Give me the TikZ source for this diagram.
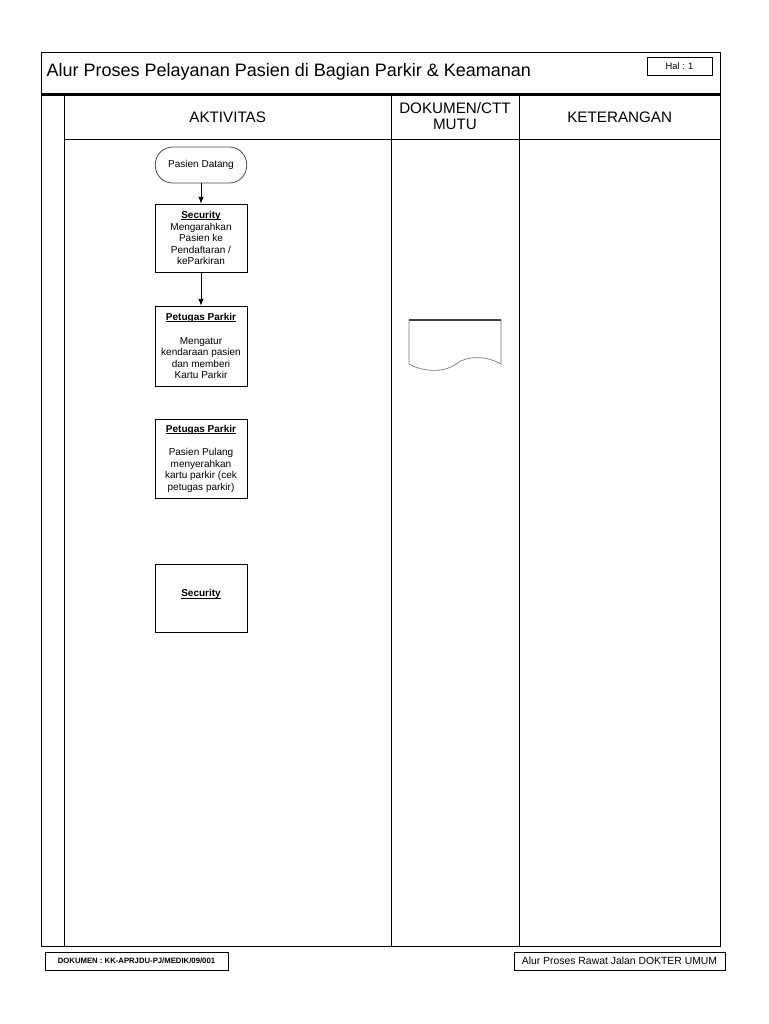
\documentclass[tikz,border=0pt]{standalone}
\usepackage{fontspec}
\setmainfont{Liberation Sans}
\usetikzlibrary{arrows.meta}
\newlength{\ulwd}
\newcommand{\uln}[1]{\settowidth{\ulwd}{#1}\rlap{\rule[-1.1pt]{\ulwd}{0.5pt}}#1}

\begin{document}
\begin{tikzpicture}[x={(0.75pt, 0pt)}, y={(0pt, -0.75pt)},
    box/.style={draw, line width=0.6pt, minimum width=69pt, align=center,
      inner sep=0pt, font=\fontsize{7.5}{8.6}\selectfont},
    terminal/.style={draw=black!70, line width=0.6pt, rounded corners=13pt,
      minimum width=68.5pt, minimum height=27pt, font=\fontsize{7.5}{8.6}\selectfont},
    head/.style={align=center, font=\fontsize{11.4}{12}\selectfont},
    tag/.style={draw, line width=0.6pt, minimum height=13.5pt, inner sep=0pt},
    flow/.style={-{Latex[length=5pt, width=4pt]}, line width=0.6pt}]
  \useasboundingbox (0, 0) rectangle (768, 1024);

  \draw[line width=0.7pt] (41.5, 52) rectangle (720.5, 946);
  \draw[line width=1.6pt] (41.5, 94.5) to (720.5, 94.5);
  \draw[line width=0.7pt] (64.5, 139.5) to (720.5, 139.5);
  \foreach \x in {64.5, 391, 519} {
    \draw[line width=0.7pt] (\x, 94.5) to (\x, 946);
  }

  \node[anchor=west, font=\fontsize{13.5}{15}\selectfont] (title) at (42, 72)
    {Alur Proses Pelayanan Pasien di Bagian Parkir \& Keamanan};
  \node[tag, minimum width=48.75pt, font=\fontsize{7}{8}\selectfont] (hal) at (679.5, 66.5) {Hal : 1};

  \node[head] (aktivitas) at (227.7, 117) {AKTIVITAS};
  \node[head] (dokumen) at (455, 116) {DOKUMEN/CTT\\MUTU};
  \node[head] (keterangan) at (619.7, 117) {KETERANGAN};

  \node[terminal] (datang) at (201, 165) {Pasien Datang};
  \node[box, minimum height=51pt] (security) at (201, 238)
    {\uln{\textbf{Security}}\\Mengarahkan\\Pasien ke\\Pendaftaran /\\keParkiran};
  \node[box, minimum height=60pt] (parkir) at (201, 346)
    {\uln{\textbf{Petugas Parkir}}\\[9pt]Mengatur\\kendaraan pasien\\dan memberi\\Kartu Parkir};
  \node[box, minimum height=59.25pt] (pulang) at (201, 458.5)
    {\uln{\textbf{Petugas Parkir}}\\[9pt]Pasien Pulang\\menyerahkan\\kartu parkir (cek\\petugas parkir)};
  \node[box, minimum height=51pt,
    label={[font=\fontsize{7.5}{8.6}\selectfont, yshift=-30pt]north:\uln{\textbf{Security}}}]
    (keluar) at (201, 598) {};

  \draw[flow] (datang) to (security);
  \draw[flow] (security) to (parkir);

  \draw[black!55, line width=0.5pt] (409, 364) to (409, 320) to (501, 320) to (501, 364)
    .. controls (485, 355) and (466, 356) .. (456, 364)
    .. controls (446, 372) and (425, 373) .. (409, 364);
  \draw[black!75, line width=0.8pt] (409, 320) to (501, 320);

  \node[tag, minimum width=137.25pt, font=\fontsize{5.8}{7}\selectfont\bfseries] (kode) at (136.5, 961)
    {DOKUMEN : KK-APRJDU-PJ/MEDIK/09/001};
  \node[tag, minimum width=158.25pt, font=\fontsize{7.8}{9}\selectfont] (judul) at (619.5, 961)
    {Alur Proses Rawat Jalan DOKTER UMUM};
\end{tikzpicture}
\end{document}
